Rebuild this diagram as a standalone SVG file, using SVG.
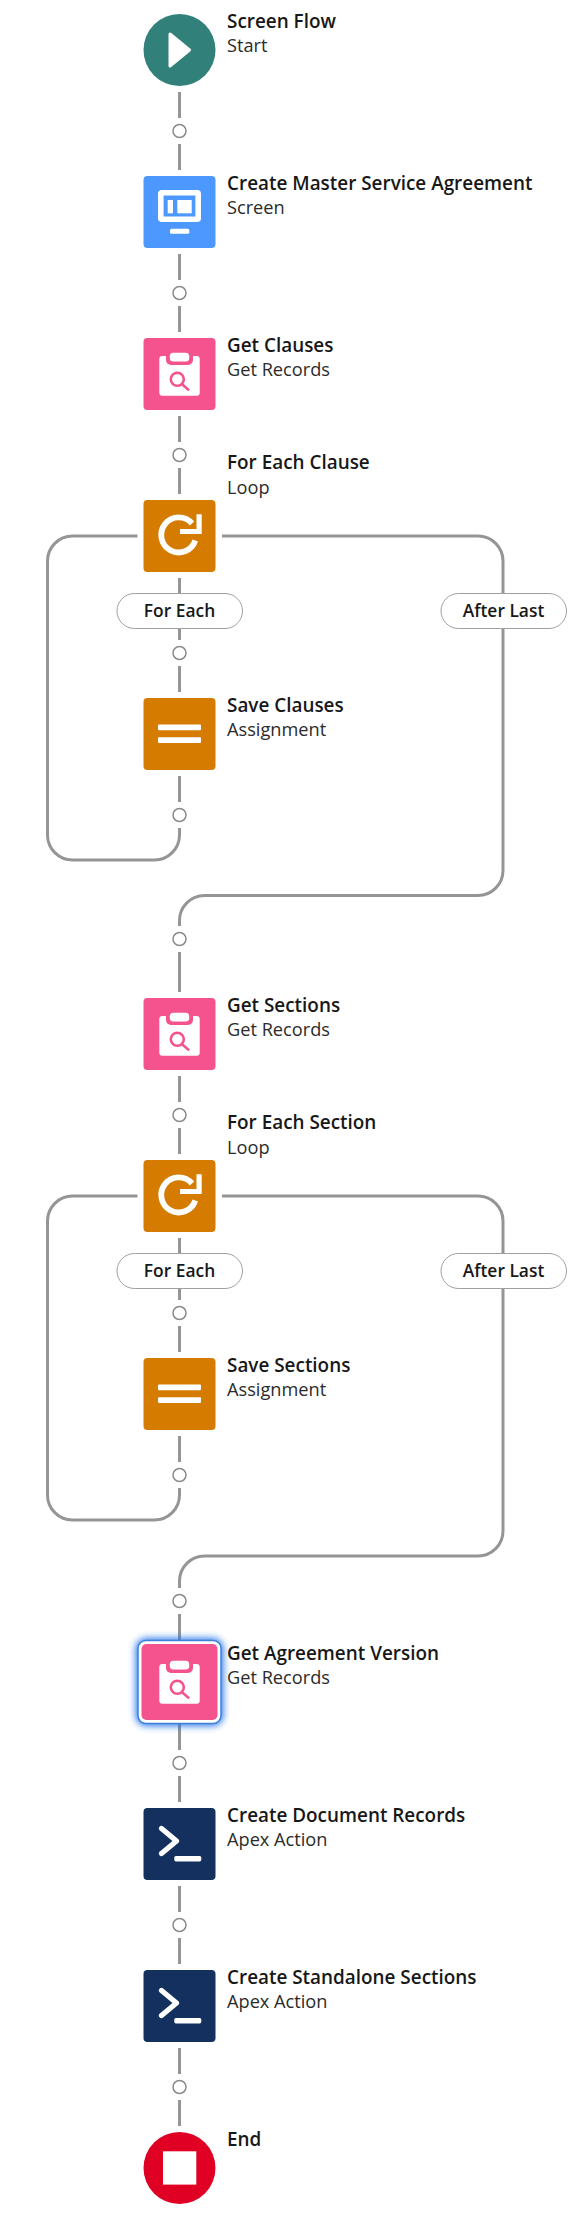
<svg xmlns="http://www.w3.org/2000/svg" width="579" height="2228" viewBox="0 0 579 2228">
<style>
.l{fill:none;stroke:#959595;stroke-width:3}
.c{fill:#fff;stroke:#8a8a8a;stroke-width:1.5}
.t{font:600 18.9px "Open Sans","Noto Sans",sans-serif;fill:#181818}
.s{font:400 18.2px "Open Sans","Noto Sans",sans-serif;fill:#2b2b2b}
.p{fill:#fff;stroke:#a0a0a0;stroke-width:1}
.pt{font:600 17.4px "Open Sans","Noto Sans",sans-serif;fill:#181818;text-anchor:middle}
.o{fill:#d47b00}.k{fill:#f4538e}.n{fill:#14305f}
.w{fill:#fff}
</style>
<defs>
<filter id="glow" x="-30%" y="-30%" width="160%" height="160%"><feGaussianBlur stdDeviation="3.5"/></filter>
<g id="iGet"><rect class="w" x="-20.2" y="-18" width="40.4" height="39.8" rx="3"/><rect class="k" x="-13.5" y="-24" width="27" height="15" rx="5"/><rect class="w" x="-9.7" y="-21.3" width="19.4" height="8.7" rx="3.5"/><circle cx="-2.2" cy="5.3" r="6.5" fill="none" stroke="#f4538e" stroke-width="2.6"/><path d="M2.6 10.2 9.6 16.4" fill="none" stroke="#f4538e" stroke-width="2.6"/></g>
<g id="iLoop"><path d="M12.5 -13.5A17.5 17.5 0 1 0 15.8 3.5" fill="none" stroke="#fff" stroke-width="5.8"/><path d="M17 -22.8h5.2v19.8h-21.7v-5h16.5z" fill="#fff"/></g>
<g id="iAsg"><rect class="w" x="-21.5" y="-11.5" width="43" height="5.7" rx="1"/><rect class="w" x="-21.5" y="1.2" width="43" height="5.8" rx="1"/></g>
<g id="iApex"><path d="M-18 -7.5-3 5-18 17.5" fill="none" stroke="#fff" stroke-width="5.2" stroke-linecap="round" stroke-linejoin="round"/><rect class="w" x="-5.2" y="20" width="27" height="5.4" rx="1.6"/></g>
</defs>
<rect width="579" height="2228" fill="#fff"/>
<g id="connectors">
<path class="l" d="M179.5 92V118M179.5 144V170M179.5 254V280M179.5 306V332M179.5 416V442M179.5 468V494"/>
<path class="l" d="M137.5 536H72.5A25 25 0 0 0 47.5 561V835A25 25 0 0 0 72.5 860H154.5A25 25 0 0 0 179.5 835V828"/>
<path class="l" d="M179.5 578V640M179.5 666V692M179.5 776V802"/>
<path class="l" d="M222 536H478A25 25 0 0 1 503 561V870.5A25 25 0 0 1 478 895.5H204.5A25 25 0 0 0 179.5 920.5V926"/>
<path class="l" d="M179.5 952V992M179.5 1076V1102M179.5 1128V1154"/>
<path class="l" d="M137.5 1196H72.5A25 25 0 0 0 47.5 1221V1495A25 25 0 0 0 72.5 1520H154.5A25 25 0 0 0 179.5 1495V1488"/>
<path class="l" d="M179.5 1238V1300M179.5 1326V1352M179.5 1436V1462"/>
<path class="l" d="M222 1196H478A25 25 0 0 1 503 1221V1531A25 25 0 0 1 478 1556H204.5A25 25 0 0 0 179.5 1581V1588"/>
<path class="l" d="M179.5 1614V1640M179.5 1724V1750M179.5 1776V1802M179.5 1886V1912M179.5 1938V1964M179.5 2048V2074M179.5 2100V2126"/>
</g>
<g id="add-points">
<circle class="c" cx="179.5" cy="131" r="6.5"/><circle class="c" cx="179.5" cy="293" r="6.5"/><circle class="c" cx="179.5" cy="455" r="6.5"/><circle class="c" cx="179.5" cy="653" r="6.5"/><circle class="c" cx="179.5" cy="815" r="6.5"/><circle class="c" cx="179.5" cy="939" r="6.5"/><circle class="c" cx="179.5" cy="1115" r="6.5"/><circle class="c" cx="179.5" cy="1313" r="6.5"/><circle class="c" cx="179.5" cy="1475" r="6.5"/><circle class="c" cx="179.5" cy="1601" r="6.5"/><circle class="c" cx="179.5" cy="1763" r="6.5"/><circle class="c" cx="179.5" cy="1925" r="6.5"/><circle class="c" cx="179.5" cy="2087" r="6.5"/>
</g>
<g id="start"><circle cx="179.5" cy="50" r="36" fill="#32807a"/><path d="M170 34 189.5 50 170 66Z" fill="#fff" stroke="#fff" stroke-width="3" stroke-linejoin="round"/><text class="t" x="227" y="27.5">Screen Flow</text><text class="s" x="227" y="52">Start</text></g>
<g id="create-msa"><rect x="143.5" y="176" width="72" height="72" rx="4" fill="#4d98ff"/><rect x="160.8" y="192.8" width="37.4" height="26.4" rx="1" fill="none" stroke="#fff" stroke-width="5.6"/><rect class="w" x="167.7" y="200" width="5.3" height="13.3"/><rect class="w" x="177.3" y="200" width="14.4" height="13.3"/><rect class="w" x="170" y="228.7" width="19.3" height="5" rx="1.5"/><text class="t" x="227" y="190">Create Master Service Agreement</text><text class="s" x="227" y="214">Screen</text></g>
<g id="get-clauses"><rect class="k" x="143.5" y="338" width="72" height="72" rx="4"/><use href="#iGet" x="179.5" y="374"/><text class="t" x="227" y="352">Get Clauses</text><text class="s" x="227" y="376">Get Records</text></g>
<g id="loop-clause"><rect class="o" x="143.5" y="500" width="72" height="72" rx="4"/><use href="#iLoop" x="179.5" y="537"/><text class="t" x="227" y="469">For Each Clause</text><text class="s" x="227" y="493.5">Loop</text></g>
<g id="pill-fe1"><rect class="p" x="117" y="593.5" width="125.5" height="35" rx="17.5"/><text class="pt" x="179.5" y="617">For Each</text></g>
<g id="pill-al1"><rect class="p" x="441" y="593.5" width="125.5" height="35" rx="17.5"/><text class="pt" x="503.5" y="617">After Last</text></g>
<g id="save-clauses"><rect class="o" x="143.5" y="698" width="72" height="72" rx="4"/><use href="#iAsg" x="179.5" y="736"/><text class="t" x="227" y="712">Save Clauses</text><text class="s" x="227" y="736">Assignment</text></g>
<g id="get-sections"><rect class="k" x="143.5" y="998" width="72" height="72" rx="4"/><use href="#iGet" x="179.5" y="1034"/><text class="t" x="227" y="1012">Get Sections</text><text class="s" x="227" y="1036">Get Records</text></g>
<g id="loop-section"><rect class="o" x="143.5" y="1160" width="72" height="72" rx="4"/><use href="#iLoop" x="179.5" y="1197"/><text class="t" x="227" y="1129">For Each Section</text><text class="s" x="227" y="1153.5">Loop</text></g>
<g id="pill-fe2"><rect class="p" x="117" y="1253.5" width="125.5" height="35" rx="17.5"/><text class="pt" x="179.5" y="1277">For Each</text></g>
<g id="pill-al2"><rect class="p" x="441" y="1253.5" width="125.5" height="35" rx="17.5"/><text class="pt" x="503.5" y="1277">After Last</text></g>
<g id="save-sections"><rect class="o" x="143.5" y="1358" width="72" height="72" rx="4"/><use href="#iAsg" x="179.5" y="1396"/><text class="t" x="227" y="1372">Save Sections</text><text class="s" x="227" y="1396">Assignment</text></g>
<g id="get-agreement"><rect x="135.5" y="1638" width="88" height="88" rx="11" fill="#1f6fe8" opacity=".9" filter="url(#glow)"/><rect x="138" y="1640.5" width="83" height="83" rx="8" fill="#fff" stroke="#3f80dc" stroke-width="1.5"/><rect class="k" x="141.5" y="1644" width="76" height="76" rx="5"/><use href="#iGet" x="179.5" y="1682"/><text class="t" x="227" y="1660">Get Agreement Version</text><text class="s" x="227" y="1684">Get Records</text></g>
<g id="create-docs"><rect class="n" x="143.5" y="1808" width="72" height="72" rx="4"/><use href="#iApex" x="179.5" y="1836"/><text class="t" x="227" y="1822">Create Document Records</text><text class="s" x="227" y="1846">Apex Action</text></g>
<g id="create-standalone"><rect class="n" x="143.5" y="1970" width="72" height="72" rx="4"/><use href="#iApex" x="179.5" y="1998"/><text class="t" x="227" y="1984">Create Standalone Sections</text><text class="s" x="227" y="2008">Apex Action</text></g>
<g id="end"><circle cx="179.5" cy="2168" r="36" fill="#e00024"/><rect class="w" x="163" y="2151.3" width="33.3" height="33.3"/><text class="t" x="227" y="2146">End</text></g>
</svg>
